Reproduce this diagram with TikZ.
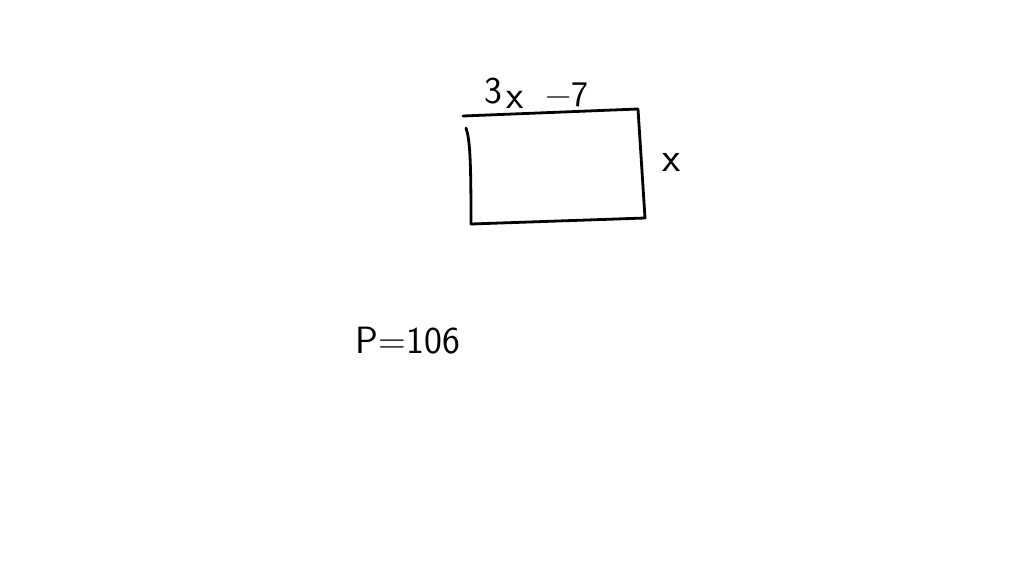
\documentclass[tikz,border=0pt]{standalone}
\usepackage{fontspec}
\setmainfont{DejaVu Sans}
\begin{document}
\begin{tikzpicture}[x=1pt,y=-1pt,
  stroke/.style={line width=2.8pt,line cap=round,line join=round,draw=black},
  lbl/.style={inner sep=0pt,text=black,font=\fontsize{#1}{#1}\selectfont\sffamily}]
\useasboundingbox[fill=white] (0,0) rectangle (1024,576);
\draw[stroke] (466,128) .. controls (470,140) and (471,160) .. (471,224)
  -- (645,218) -- (638,109) -- (463,116);
\node[lbl=38] (three) at (493,91) {3};
\node[lbl=40] (x1) at (515,100) {x};
\node[lbl=36] (minus7) at (567,95) {−7};
\node[lbl=42] (x2) at (672,162) {x};
\node[lbl=38] (p) at (408,341) {P=106};
\end{tikzpicture}
\end{document}
